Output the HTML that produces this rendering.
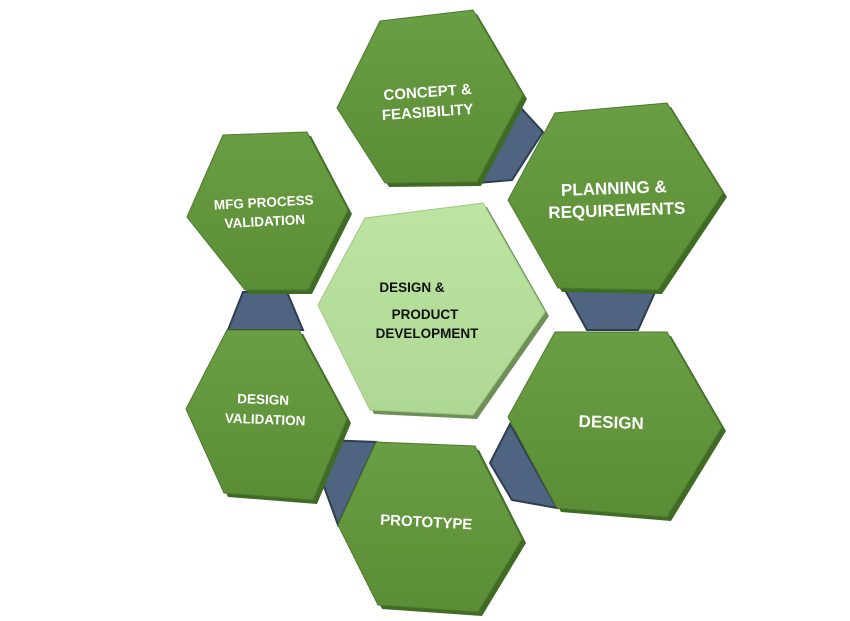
<!DOCTYPE html>
<html><head><meta charset="utf-8"><style>
html,body{margin:0;padding:0;background:#fff;}
svg{display:block}
text{font-family:"Liberation Sans",sans-serif;font-weight:bold;text-anchor:middle;}
</style></head><body>
<svg width="850" height="621" viewBox="0 0 850 621" xmlns="http://www.w3.org/2000/svg">
<defs>
<linearGradient id="g" x1="0" y1="0" x2="0" y2="1">
<stop offset="0" stop-color="#6a9e44"/><stop offset="1" stop-color="#5a8d35"/></linearGradient>
<linearGradient id="lg" x1="0" y1="0" x2="0" y2="1">
<stop offset="0" stop-color="#bde4a2"/><stop offset="1" stop-color="#aed893"/></linearGradient>
</defs>
<g fill="#4e6480" stroke="#2f3d50" stroke-width="2">
<polygon points="510,96 543,132 512,180 478,183"/>
<polygon points="565,290 656,290 638,330 587,330"/>
<polygon points="510,424 490,463 512,500 557,508"/>
<polygon points="324,440 376,442 338,525 318,470"/>
<polygon points="243,292 287,292 303,330 228,330"/>
</g>
<g fill="#3f6b25">
<polygon points="341,112 384,25 477,14 527,99 481,186 389,187"/>
<polygon points="512,204 559,117 671,107 727,197 662,294 562,292"/>
<polygon points="191,221 227,139 311,136 352,214 312,294 249,294"/>
<polygon points="190,413 231,334 303,334 351,423 317,504 228,497"/>
<polygon points="342,529 380,446 479,450 526,543 482,616 382,609"/>
<polygon points="512,421 559,336 671,336 726,431 671,521 561,512"/>
<polygon points="322,309 369,222 487,207 549,316 477,419 374,414" fill="#6f8f58"/>
</g>
<g fill="url(#g)" stroke="#4b7a2c" stroke-width="1">
<polygon points="337,108 380,21 473,10 523,95 477,182 385,183"/>
<polygon points="508,200 555,113 667,103 723,193 658,290 558,288"/>
<polygon points="187,217 223,135 307,132 348,210 308,290 245,290"/>
<polygon points="186,409 227,330 299,330 347,419 313,500 224,493"/>
<polygon points="338,525 376,442 475,446 522,539 478,612 378,605"/>
<polygon points="508,417 555,332 667,332 722,427 667,517 557,508"/>
</g>
<polygon points="318,305 365,218 483,203 545,312 473,415 370,410" fill="url(#lg)" stroke="#9cc880" stroke-width="1"/>
<g fill="#fff">
<text x="428" y="97" font-size="15" transform="rotate(-4 428 97)">CONCEPT  &amp;</text>
<text x="428" y="117" font-size="15" transform="rotate(-4 428 117)">FEASIBILITY</text>
<text x="614" y="194" font-size="17" transform="rotate(-2 614 194)">PLANNING &amp;</text>
<text x="617" y="216" font-size="17" transform="rotate(-2 617 216)">REQUIREMENTS</text>
<text x="264" y="207" font-size="13.5" transform="rotate(-3 264 207)">MFG PROCESS</text>
<text x="265" y="226" font-size="13.5" transform="rotate(-3 265 226)">VALIDATION</text>
<text x="263" y="404" font-size="13.5" transform="rotate(2 263 404)">DESIGN</text>
<text x="265" y="424" font-size="13.5" transform="rotate(2 265 424)">VALIDATION</text>
<text x="426" y="527" font-size="15" transform="rotate(3 426 527)">PROTOTYPE</text>
<text x="611" y="428" font-size="17" transform="rotate(2 611 428)">DESIGN</text>
</g>
<g fill="#111">
<text x="412" y="292" font-size="13.5">DESIGN &amp;</text>
<text x="425" y="319" font-size="13.5">PRODUCT</text>
<text x="427" y="338" font-size="13.5">DEVELOPMENT</text>
</g>
</svg>
</body></html>
